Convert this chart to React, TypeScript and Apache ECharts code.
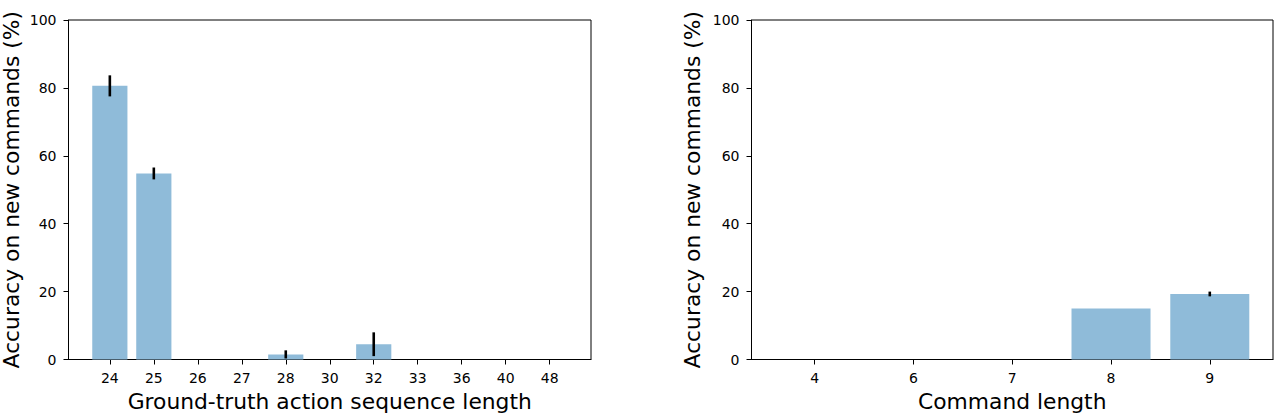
import React, { useEffect, useRef } from "react";
import * as echarts from "echarts";

const leftCategories = ["24", "25", "26", "27", "28", "30", "32", "33", "36", "40", "48"];
const leftValues = [80.6, 54.8, 0, 0, 1.5, 0, 4.5, 0, 0, 0, 0];
const leftErrors = [3.1, 1.75, 0, 0, 1.2, 0, 3.5, 0, 0, 0, 0];

const rightCategories = ["4", "6", "7", "8", "9"];
const rightValues = [0, 0, 0, 15, 19.3];
const rightErrors = [0, 0, 0, 0, 0.7];

const FONT = "DejaVu Sans";
const BAR_COLOR = "#8fbbd9";

const grids = [
  { left: 68.5, top: 20, width: 522.5, height: 339.5 },
  { left: 751.5, top: 20, width: 521.5, height: 339.5 },
];
const yNameGaps = [46.5, 48.5];

function App() {
  const ref = useRef<HTMLDivElement>(null);
  useEffect(() => {
    if (!ref.current) return;
    const chart = echarts.init(ref.current, undefined, { renderer: "svg" });

    const panels = [
      { cats: leftCategories, vals: leftValues, errs: leftErrors, name: "Ground-truth action sequence length" },
      { cats: rightCategories, vals: rightValues, errs: rightErrors, name: "Command length" },
    ];

    const xAxis: any[] = [];
    const yAxis: any[] = [];
    const series: any[] = [];

    panels.forEach((p, i) => {
      const n = p.cats.length;
      const span = n - 1 + 0.8;
      const margin = span * 0.05;
      const min = -0.4 - margin;
      const max = n - 1 + 0.4 + margin;
      const pxPerUnit = grids[i].width / (max - min);
      const idx = p.cats.map((_, k) => k);
      xAxis.push({
        type: "value",
        gridIndex: i,
        min,
        max,
        name: p.name,
        nameLocation: "middle",
        nameGap: 30.5,
        nameTextStyle: { fontFamily: FONT, fontSize: 21.8, color: "#000" },
        splitLine: { show: false },
        axisLine: { show: true, onZero: false, lineStyle: { color: "#000", width: 1 } },
        axisTick: { show: true, length: 5, lineStyle: { color: "#000", width: 1 }, customValues: idx },
        axisLabel: {
          customValues: idx,
          margin: 11,
          fontFamily: FONT,
          fontSize: 14,
          color: "#000",
          formatter: (v: number) => p.cats[Math.round(v)],
        },
      });
      yAxis.push({
        type: "value",
        gridIndex: i,
        min: 0,
        max: 100,
        interval: 20,
        name: "Accuracy on new commands (%)",
        nameLocation: "middle",
        nameGap: yNameGaps[i],
        nameTextStyle: { fontFamily: FONT, fontSize: 21.8, color: "#000" },
        splitLine: { show: false },
        axisLine: { show: true, onZero: false, lineStyle: { color: "#000", width: 1 } },
        axisTick: { show: true, length: 5, lineStyle: { color: "#000", width: 1 } },
        axisLabel: {
          margin: 12,
          fontFamily: FONT,
          fontSize: 14,
          color: "#000",
        },
      });
      series.push({
        type: "bar",
        xAxisIndex: i,
        yAxisIndex: i,
        barWidth: 0.8 * pxPerUnit,
        itemStyle: { color: BAR_COLOR },
        data: p.vals.map((v, k) => [k, v]),
      });
      series.push({
        type: "custom",
        xAxisIndex: i,
        yAxisIndex: i,
        data: p.vals.map((v, k) => [k, v - p.errs[k], v + p.errs[k], p.errs[k]]),
        renderItem: (params: any, api: any) => {
          if (api.value(3) <= 0) return null;
          const lo = api.coord([api.value(0), api.value(1)]);
          const hi = api.coord([api.value(0), api.value(2)]);
          return {
            type: "line",
            shape: { x1: lo[0], y1: lo[1], x2: hi[0], y2: hi[1] },
            style: { stroke: "#000", lineWidth: 2.6 },
          };
        },
        z: 5,
      });
    });

    chart.setOption({
      animation: false,
      backgroundColor: "#fff",
      textStyle: { fontFamily: FONT },
      grid: grids.map((g) => ({
        ...g,
        show: true,
        borderColor: "#000",
        borderWidth: 1,
        backgroundColor: "transparent",
        containLabel: false,
        outerBoundsMode: "none",
      })),
      xAxis,
      yAxis,
      series,
    });
    return () => chart.dispose();
  }, []);
  return (
    <div
      ref={ref}
      style={{ position: "absolute", left: 0, top: 0, width: 1275, height: 415, background: "#fff" }}
    />
  );
}

export default App;
